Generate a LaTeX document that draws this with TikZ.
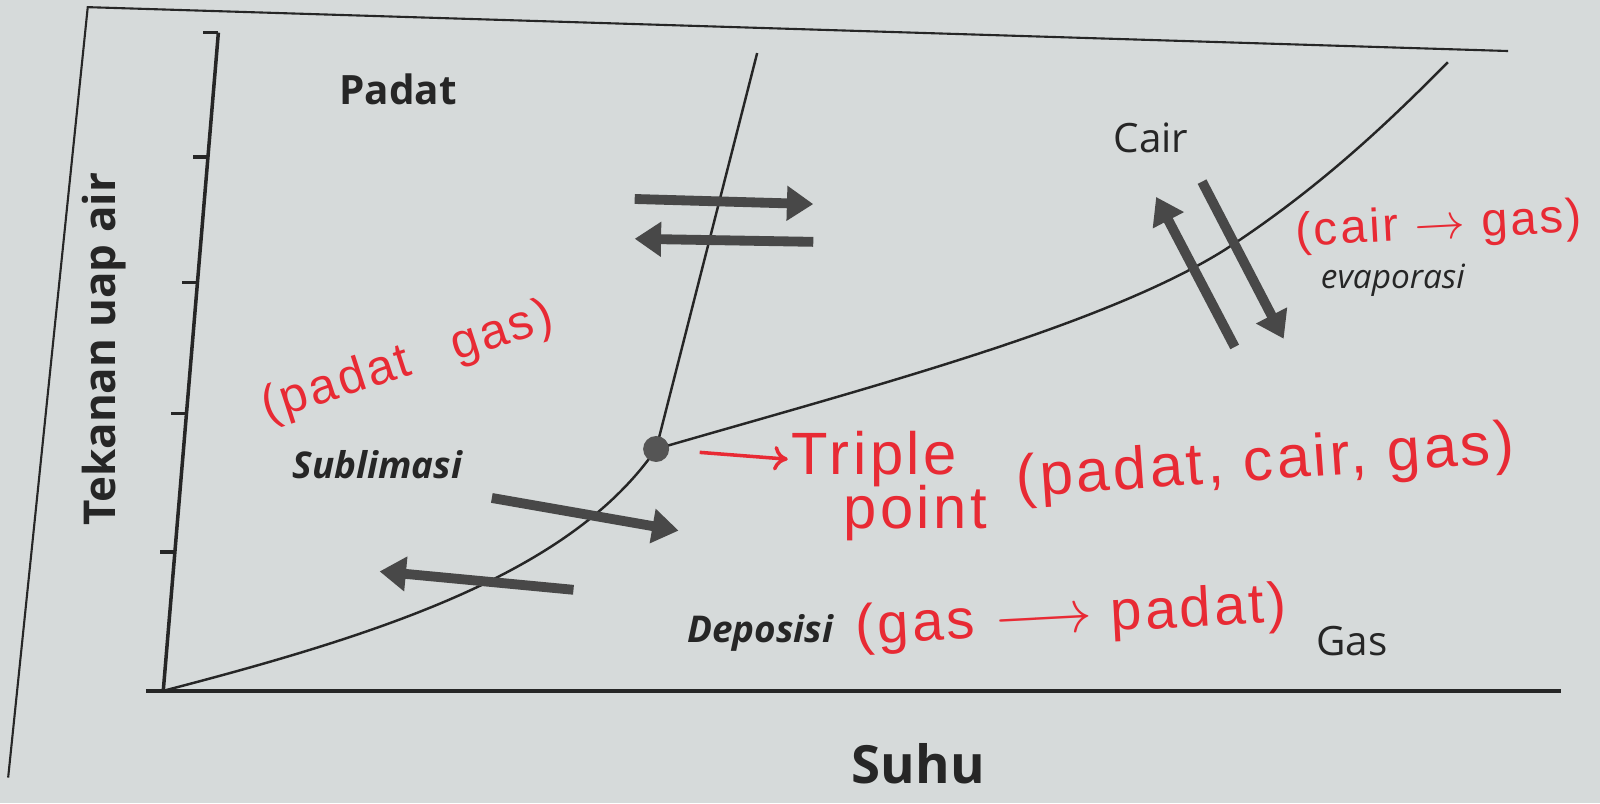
\documentclass[tikz,border=0pt]{standalone}
\usepackage{fontspec}
\setmainfont{Open Sans}
\newfontfamily\penfont[LetterSpace=6]{Liberation Sans}
\usetikzlibrary{arrows.meta,calc}

\definecolor{paper}{RGB}{214,218,218}
\definecolor{ink}{RGB}{38,38,38}
\definecolor{arrowgrey}{RGB}{72,72,72}
\definecolor{dotgrey}{RGB}{85,85,85}
\definecolor{pen}{RGB}{232,42,52}

\tikzset{
  curve/.style={draw=ink, line width=0.7pt},
  axis/.style={draw=ink, line width=1pt},
  phase/.style={text=ink, inner sep=1pt, font=\fontsize{11.5}{13}\selectfont},
  process/.style={text=ink, inner sep=1pt, font=\bfseries\itshape\fontsize{10.5}{12}\selectfont},
  pen/.style={text=pen, inner sep=1pt, font=\penfont\fontsize{17}{19}\selectfont},
  penline/.style={draw=pen, line width=1pt, -{To[length=4pt,width=7pt]}},
  blockarrow/.style={draw=arrowgrey, line width=2.8pt, -{Triangle[length=7.5pt,width=9.5pt]}},
}

\begin{document}
\begin{tikzpicture}[x=0.010204cm, y=-0.010204cm]
    \fill[paper] (0,0) rectangle (1568,787);
    \useasboundingbox (0,0) rectangle (1568,787);

    % page frame
    \coordinate (fbl) at (8,762);
    \coordinate (ftl) at (86,7);
    \coordinate (ftr) at (1478,50);
    \draw[ink, line width=0.6pt] (fbl) -- (ftl) -- (ftr);

    % axes
    \coordinate (o) at (160,677);
    \coordinate (ytop) at (214,32);
    \coordinate (xstart) at (143,677);
    \coordinate (xend) at (1530,677);
    \draw[axis] (ytop) -- (o);
    \draw[axis] (xstart) -- (xend);
    \foreach \yy in {32,154,277,405,541}{
        \draw[axis] ($(ytop)!{(\yy-32)/645}!(o)$) -- ++(-15,0);
    }

    % phase boundaries
    \coordinate (tp) at (643,440);
    \coordinate (melt) at (742,52);
    \coordinate (boil) at (1419,61);
    \draw[curve] (o) .. controls (380,620) and (560,560) .. (tp);
    \draw[curve] (tp) -- (melt);
    \draw[curve] (tp) .. controls (850,380) and (1080,320) .. (1200,245)
                      .. controls (1300,180) and (1370,110) .. (boil);
    \node[circle, fill=dotgrey, inner sep=0pt, minimum size=0.26cm] (tpdot) at (tp) {};

    % transitions
    \coordinate (m1s) at (622,195);
    \coordinate (m1e) at (797,200);
    \coordinate (m2s) at (797,237);
    \coordinate (m2e) at (622,234);
    \coordinate (s1s) at (482,488);
    \coordinate (s1e) at (665,520);
    \coordinate (s2s) at (562,578);
    \coordinate (s2e) at (372,560);
    \coordinate (e1s) at (1210,340);
    \coordinate (e1e) at (1133,193);
    \coordinate (e2s) at (1178,178);
    \coordinate (e2e) at (1258,332);
    \draw[blockarrow] (m1s) -- (m1e);
    \draw[blockarrow] (m2s) -- (m2e);
    \draw[blockarrow] (s1s) -- (s1e);
    \draw[blockarrow] (s2s) -- (s2e);
    \draw[blockarrow] (e1s) -- (e1e);
    \draw[blockarrow] (e2s) -- (e2e);

    % printed labels
    \node[phase, font=\bfseries\fontsize{11.5}{13}\selectfont] (padat) at (390,88) {Padat};
    \node[phase] (cair) at (1128,135) {Cair};
    \node[phase] (gas) at (1325,628) {Gas};
    \node[process] (sublimasi) at (370,455) {Sublimasi};
    \node[process] (deposisi) at (745,620) {Deposisi};
    \node[phase, font=\itshape\fontsize{9.5}{11}\selectfont] (evaporasi) at (1365,275) {evaporasi};
    \node[phase, font=\bfseries\fontsize{15}{17}\selectfont] (suhu) at (900,748) {Suhu};
    \node[phase, font=\bfseries\fontsize{12.5}{14}\selectfont, rotate=90] (tekanan) at (102,342) {Tekanan uap air};

    % handwritten notes
    \node[pen, rotate=18, font=\penfont\fontsize{14}{16}\selectfont] (padatw) at (330,378) {(padat};
    \node[pen, rotate=18, font=\penfont\fontsize{14}{16}\selectfont] (gasw) at (492,326) {gas)};
    \node[pen] (triple) at (857,450) {Triple};
    \node[pen] (point) at (897,503) {point};
    \node[pen, rotate=4] (phases) at (1240,455) {(padat, cair, gas)};
    \node[pen, rotate=3, font=\penfont\fontsize{13.5}{15}\selectfont] (cairgas) at (1410,222) {(cair $\rightarrow$ gas)};
    \node[pen, rotate=3, font=\penfont\fontsize{16}{18}\selectfont] (gaspadat) at (1050,606) {(gas $\longrightarrow$ padat)};
    \draw[penline, shorten <=0.3cm] (tpdot) -- (triple.west);
\end{tikzpicture}
\end{document}
